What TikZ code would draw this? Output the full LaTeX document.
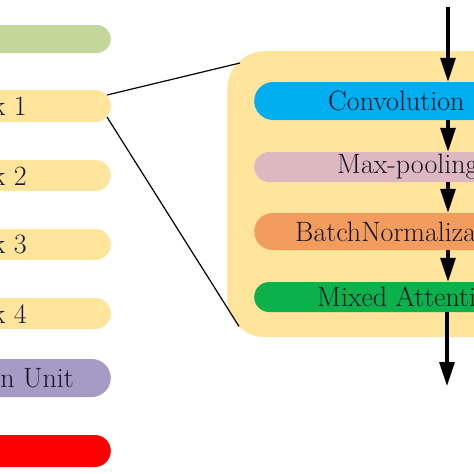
\documentclass[tikz,border=0pt]{standalone}
\usetikzlibrary{calc}
\usetikzlibrary{positioning}
\usetikzlibrary{arrows.meta}
\usetikzlibrary{shapes.misc}

\definecolor{inputgreen}{HTML}{C4D79B}
\definecolor{blockyellow}{HTML}{FFE59C}
\definecolor{unitpurple}{HTML}{A69BC5}
\definecolor{outred}{HTML}{FF0000}
\definecolor{convblue}{HTML}{00AEEF}
\definecolor{poolpink}{HTML}{DDB8C0}
\definecolor{bnorange}{HTML}{F29C5E}
\definecolor{mixgreen}{HTML}{0DB14B}
\definecolor{inkdark}{HTML}{16162A}

\begin{document}
\begin{tikzpicture}[x=1pt, y=-1pt,
    lpill/.style={rounded rectangle, fill=#1, inner sep=0pt, minimum width=311pt, anchor=east},
    rpill/.style={rounded rectangle, fill=#1, inner sep=0pt, minimum width=320pt, anchor=west},
    lbl/.style={inner sep=0pt, text=inkdark, font=\fontsize{28}{32}\selectfont},
    flow/.style={-{Triangle[length=24pt,width=15pt]}, line width=3.2pt},
    link/.style={line width=1.2pt}]
            \useasboundingbox (0,0) rectangle (474,474);
            \clip (0,0) rectangle (474,474);

            % Left column
            \node[lpill=inputgreen, minimum height=28pt] (input) at (111,39) {};
            \node[lpill=blockyellow, minimum height=32pt] (blk1) at (111,106) {};
            \node[lpill=blockyellow, minimum height=31pt] (blk2) at (111,175.5) {};
            \node[lpill=blockyellow, minimum height=31pt] (blk3) at (111,244.5) {};
            \node[lpill=blockyellow, minimum height=31pt] (blk4) at (111,313.5) {};
            \node[lpill=unitpurple, minimum height=38pt] (attn) at (111,378) {};
            \node[lpill=outred, minimum height=32pt] (output) at (111,451) {};

            \node[lbl, left=84pt of blk1.east] (blk1txt) {Block 1};
            \node[lbl, left=84pt of blk2.east] (blk2txt) {Block 2};
            \node[lbl, left=84pt of blk3.east] (blk3txt) {Block 3};
            \node[lbl, left=84pt of blk4.east] (blk4txt) {Block 4};
            \node[lbl, left=37pt of attn.east] (attntxt) {Attention Unit};

            % Block detail
            \node[fill=blockyellow, rounded corners=38pt, inner sep=0pt, minimum width=320pt,
                  minimum height=286pt, anchor=north west] (unit) at (227,51) {};

            \node[rpill=convblue, minimum height=38pt] (conv) at (254,101) {};
            \node[rpill=poolpink, minimum height=30pt] (pool) at (254,167) {};
            \node[rpill=bnorange, minimum height=37pt] (bn) at (254,231.5) {};
            \node[rpill=mixgreen, minimum height=30pt] (mix) at (254,297) {};

            \node[lbl, right=74pt of conv.west] (convtxt) {Convolution};
            \node[lbl, right=83pt of pool.west] (pooltxt) {Max-pooling};
            \node[lbl, right=41pt of bn.west] (bntxt) {BatchNormalization};
            \node[lbl, right=63pt of mix.west] (mixtxt) {Mixed Attention};

            % Data flow
            \coordinate (src) at (448,7);
            \coordinate (sink) at (447,386);
            \draw[flow] (src) -- (src |- conv.north);
            \draw[flow] (src |- conv.south) -- (src |- pool.north);
            \draw[flow] (src |- pool.south) -- (src |- bn.north);
            \draw[flow] (src |- bn.south) -- (src |- mix.north);
            \draw[flow] (sink |- mix.south) -- (sink);

            % Zoom lines
            \draw[link] ($(blk1.east)+(-4,-11)$) -- ($(unit.north west)+(13,12)$);
            \draw[link] ($(blk1.east)+(-4,11)$) -- ($(unit.south west)+(12,-11)$);
        \end{tikzpicture}
\end{document}
